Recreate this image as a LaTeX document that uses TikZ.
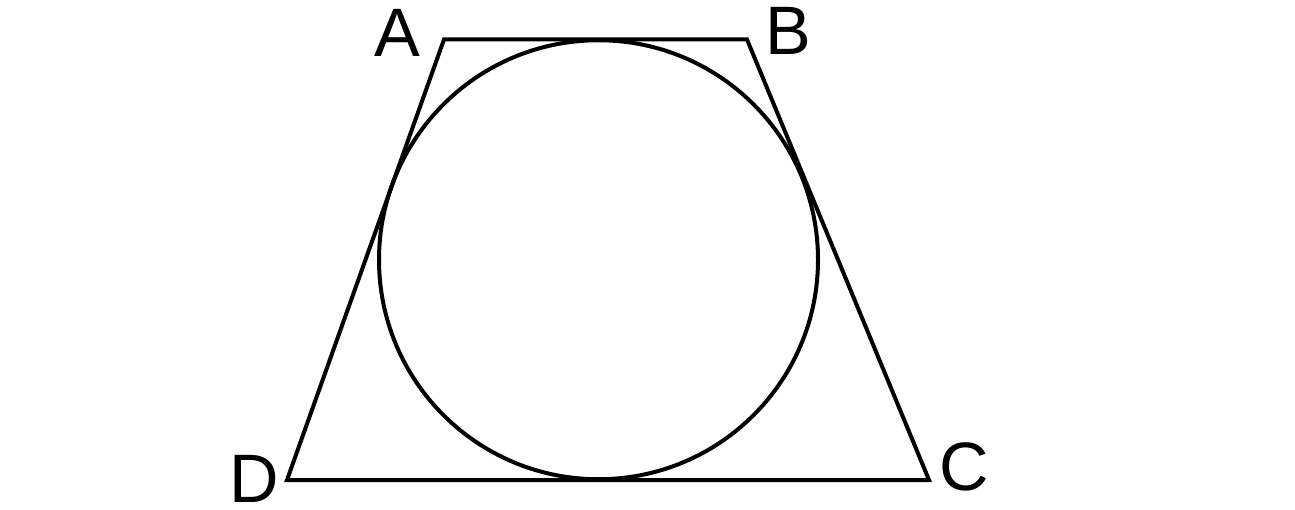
\documentclass[tikz,border=0pt]{standalone}
\usepackage{fontspec}
\setmainfont{Liberation Sans}
\usetikzlibrary{calc}

\tikzset{
  linie/.style={line width=0.08cm},
  ecke/.style={anchor=base, inner sep=0pt, font=\fontsize{39}{46}\selectfont}
}

\begin{document}
\begin{tikzpicture}

\useasboundingbox (0, 0) rectangle (25.9, -10.2);

\coordinate (A) at (8.88, -0.79);
\coordinate (B) at (14.94, -0.79);
\coordinate (C) at (18.58, -9.60);
\coordinate (D) at (5.74, -9.60);
\coordinate (M) at (11.97, -5.195);

\draw[linie] (A) -- (B) -- (C) -- (D) -- cycle;
\draw[linie] (M) circle (4.39);

\node[ecke] (la) at (7.94, -1.14) {A};
\node[ecke] (lb) at (15.77, -1.10) {B};
\node[ecke] (lc) at (19.29, -9.80) {C};
\node[ecke] (ld) at (5.09, -10.04) {D};

\end{tikzpicture}
\end{document}
